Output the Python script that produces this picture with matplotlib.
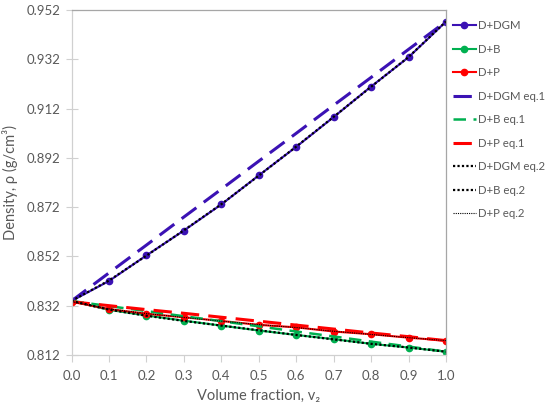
import matplotlib.pyplot as plt

plt.rcParams["font.family"] = ["Lato", "DejaVu Sans"]

v2 = [0.0, 0.1, 0.2, 0.3, 0.4, 0.5, 0.6, 0.7, 0.8, 0.9, 1.0]

# experimental densities
rho_dgm = [0.8339, 0.8420, 0.8524, 0.8625, 0.8731, 0.8849, 0.8965, 0.9086, 0.9210, 0.9329, 0.9474]
rho_b = [0.8339, 0.8303, 0.8280, 0.8259, 0.8239, 0.8219, 0.8201, 0.8184, 0.8165, 0.8150, 0.8133]
rho_p = [0.8336, 0.8306, 0.8287, 0.8273, 0.8258, 0.8242, 0.8232, 0.8215, 0.8204, 0.8190, 0.8178]

# eq.1 (ideal)
eq1_dgm = [0.8339, 0.8453, 0.8566, 0.8680, 0.8793, 0.8907, 0.9020, 0.9134, 0.9247, 0.9361, 0.9474]
eq1_b = [0.8339, 0.8318, 0.8298, 0.8277, 0.8257, 0.8236, 0.8215, 0.8195, 0.8174, 0.8154, 0.8133]
eq1_p = [0.8336, 0.8320, 0.8304, 0.8289, 0.8273, 0.8257, 0.8241, 0.8225, 0.8209, 0.8194, 0.8178]

# eq.2
eq2_dgm = [0.8339, 0.8422, 0.8523, 0.8626, 0.8732, 0.8848, 0.8966, 0.9087, 0.9209, 0.9330, 0.9474]
eq2_b = [0.8339, 0.8304, 0.8279, 0.8258, 0.8239, 0.8220, 0.8201, 0.8183, 0.8165, 0.8150, 0.8133]
eq2_p = [0.8336, 0.8307, 0.8288, 0.8272, 0.8257, 0.8243, 0.8231, 0.8216, 0.8203, 0.8190, 0.8178]

yticks = [0.812, 0.832, 0.852, 0.872, 0.892, 0.912, 0.932, 0.952]
xticks = [0.0, 0.1, 0.2, 0.3, 0.4, 0.5, 0.6, 0.7, 0.8, 0.9, 1.0]

BLUE = "#3B12B4"
GREEN = "#00B050"
RED = "#FF0000"
GREY = "#595959"

fig = plt.figure(figsize=(5.5, 4.07), dpi=100)
ax = fig.add_axes([0.130, 0.128, 0.681, 0.847])

mk = dict(marker="o", markersize=4.5, linewidth=1.5)
ax.plot(v2, rho_dgm, color=BLUE, label="D+DGM", **mk)
ax.plot(v2, rho_b, color=GREEN, label="D+B", **mk)
ax.plot(v2, rho_p, color=RED, label="D+P", **mk)

ax.plot(v2, eq1_dgm, color=BLUE, lw=2.2, dashes=(6, 3), label="D+DGM eq.1")
ax.plot(v2, eq1_b, color=GREEN, lw=1.8, dashes=(5, 3), label="D+B eq.1")
ax.plot(v2, eq1_p, color=RED, lw=2.2, dashes=(6, 3), label="D+P eq.1")

ax.plot(v2, eq2_dgm, color="black", lw=1.6, ls=(0, (1, 1)), label="D+DGM eq.2")
ax.plot(v2, eq2_b, color="black", lw=1.6, ls=(0, (1, 1)), label="D+B eq.2")
ax.plot(v2, eq2_p, color="black", lw=0.8, ls=(0, (1, 1)), label="D+P eq.2")

ax.set_xlim(0, 1)
ax.set_ylim(0.812, 0.952)
ax.set_xticks(xticks)
ax.set_xticklabels([f"{t:.1f}" for t in xticks])
ax.set_yticks(yticks)
ax.set_yticklabels([f"{t:.3f}" for t in yticks])

for side in ["top", "right"]:
    ax.spines[side].set_color("#A6A6A6")
    ax.spines[side].set_linewidth(0.9)
for side in ["left", "bottom"]:
    ax.spines[side].set_color("#D0D0D0")
    ax.spines[side].set_linewidth(0.9)

ax.tick_params(axis="y", direction="inout", length=8, color="#D0D0D0",
               labelcolor=GREY, labelsize=9.5, pad=4)
ax.tick_params(axis="x", direction="out", length=5, color="#D0D0D0",
               labelcolor=GREY, labelsize=9.5, pad=6)

ax.set_xlabel("Volume fraction, v\u2082", color=GREY, fontsize=10.5, labelpad=5)
ax.set_ylabel("Density, \u03c1 (g/cm\u00b3)", color=GREY, fontsize=10.5, labelpad=6)

leg = fig.legend(loc="upper left", bbox_to_anchor=(0.815, 0.962), frameon=False,
                 fontsize=8.2, handlelength=2.0, handletextpad=0.25,
                 labelspacing=1.1, borderaxespad=0)
for t in leg.get_texts():
    t.set_color(GREY)

fig.savefig("out.png", dpi=100)
